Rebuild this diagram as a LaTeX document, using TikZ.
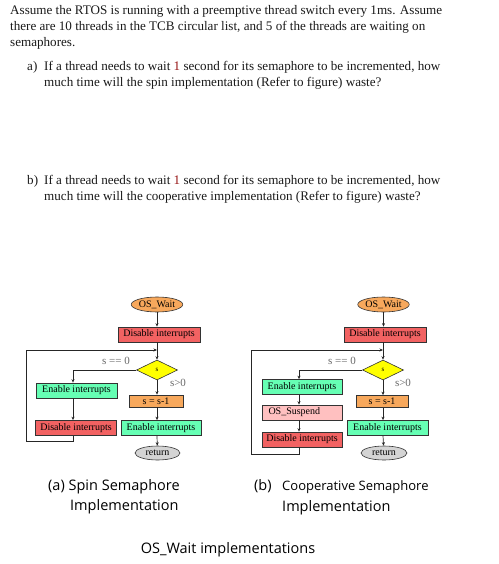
\documentclass[tikz,border=0pt]{standalone}
\usepackage{fontspec}
\setmainfont{Liberation Serif}
\newfontfamily\capfont{Open Sans}
\usetikzlibrary{shapes.geometric,arrows.meta}

\definecolor{disred}{RGB}{242,98,98}
\definecolor{engreen}{RGB}{102,255,180}
\definecolor{decorange}{RGB}{247,168,92}
\definecolor{testyellow}{RGB}{255,255,0}
\definecolor{retgray}{RGB}{212,212,212}
\definecolor{susppink}{RGB}{255,192,192}
\definecolor{onered}{RGB}{150,20,20}

\tikzset{
    box/.style={draw=black!80, line width=0.7pt, inner sep=0pt, minimum height=15pt,
        font=\fontsize{10}{10}\selectfont},
    term/.style={ellipse, draw=black!80, line width=0.6pt, inner sep=0pt,
        minimum width=46pt, minimum height=15pt, font=\fontsize{10}{10}\selectfont},
    test/.style={diamond, draw=black!80, line width=0.6pt, fill=testyellow, inner sep=0pt,
        minimum width=41pt, minimum height=20pt, font=\fontsize{7}{8}\selectfont},
    flow/.style={line width=0.7pt, draw=black!85, -{Stealth[length=3.5pt,width=3pt]}},
    branch/.style={text=black!60, font=\fontsize{11}{11}\selectfont},
    question/.style={anchor=north west, inner sep=0pt, align=left,
        font=\fontsize{13.1}{16}\selectfont, text=black!90},
    caption/.style={anchor=base west, inner sep=0pt, font=\capfont\fontsize{14.5}{16}\selectfont},
}

\begin{document}
\begin{tikzpicture}[x=1pt, y=-1pt]

    \useasboundingbox (0,0) rectangle (498,564);

    % Question text
    \node[question, font=\fontsize{13.1}{16.3}\selectfont] (intro) at (10,4.8) {Assume the RTOS is running with a preemptive thread switch every 1ms. Assume\\
        there are 10 threads in the TCB circular list, and 5 of the threads are waiting on\\
        semaphores.};
    \node[question] (qa-tag) at (27,61.1) {a)};
    \node[question] (qa) at (44,61.1) {If a thread needs to wait \textcolor{onered}{1} second for its semaphore to be incremented, how\\
        much time will the spin implementation (Refer to figure) waste?};
    \node[question] (qb-tag) at (27,175.1) {b)};
    \node[question] (qb) at (44,175.1) {If a thread needs to wait \textcolor{onered}{1} second for its semaphore to be incremented, how\\
        much time will the cooperative implementation (Refer to figure) waste?};

    % (a) Spin semaphore
    \node[term, fill=decorange] (A-wait) at (157,304.5) {OS\_Wait};
    \node[box, fill=disred, minimum width=82pt] (A-dis1) at (159,334.5) {Disable interrupts};
    \coordinate (A-join) at (157,350);
    \node[test] (A-s) at (157,370) {s};
    \node[box, fill=engreen, minimum width=81pt] (A-en1) at (76.5,390.5) {Enable interrupts};
    \node[box, fill=decorange, minimum width=54pt, minimum height=12pt] (A-dec) at (156,401) {s = s-1};
    \node[box, fill=disred, minimum width=81pt] (A-dis2) at (76,428) {Disable interrupts};
    \node[box, fill=engreen, minimum width=80pt] (A-en2) at (161,428) {Enable interrupts};
    \node[term, fill=retgray, minimum width=45pt, minimum height=14pt] (A-ret) at (157.5,453) {return};
    \node[branch] (A-zero) at (116,361) {s == 0};
    \node[branch] (A-pos) at (178,383) {s>0};
    \coordinate (A-left) at (73,0);
    \coordinate (A-back) at (26,441);

    \draw[flow] (A-wait) -- (A-wait |- A-dis1.north);
    \draw[flow] (A-wait |- A-dis1.south) -- (A-s);
    \draw[flow] (A-s.west) -| (A-left |- A-en1.north);
    \draw[flow] (A-left |- A-en1.south) -- (A-left |- A-dis2.north);
    \draw[flow] (A-left |- A-dis2.south) -- (A-left |- A-back) -- (A-back) -- (A-back |- A-join) -- (A-join);
    \draw[flow] (A-s) -- (A-s |- A-dec.north);
    \draw[flow] (A-s |- A-dec.south) -- (A-s |- A-en2.north);
    \draw[flow] (A-s |- A-en2.south) -- (A-ret);

    % (b) Cooperative semaphore
    \node[term, fill=decorange] (B-wait) at (383.5,304.5) {OS\_Wait};
    \node[box, fill=disred, minimum width=82pt] (B-dis1) at (385,334.5) {Disable interrupts};
    \coordinate (B-join) at (383,350);
    \node[test] (B-s) at (383,370) {s};
    \node[box, fill=engreen, minimum width=80pt] (B-en1) at (302,387) {Enable interrupts};
    \node[box, fill=susppink, minimum width=80pt, text width=67pt, align=left] (B-susp) at (302,412.5) {OS\_Suspend};
    \node[box, fill=disred, minimum width=80pt] (B-dis2) at (302,439.5) {Disable interrupts};
    \node[box, fill=decorange, minimum width=52pt, minimum height=12pt] (B-dec) at (382,401.5) {s = s-1};
    \node[box, fill=engreen, minimum width=81pt] (B-en2) at (387.5,428) {Enable interrupts};
    \node[term, fill=retgray, minimum width=46pt, minimum height=14pt] (B-ret) at (384,453) {return};
    \node[branch] (B-zero) at (342,361) {s == 0};
    \node[branch] (B-pos) at (403,383) {s>0};
    \coordinate (B-left) at (299,0);
    \coordinate (B-back) at (251,454);

    \draw[flow] (B-wait) -- (B-wait |- B-dis1.north);
    \draw[flow] (B-join |- B-dis1.south) -- (B-s);
    \draw[flow] (B-s.west) -| (B-left |- B-en1.north);
    \draw[flow] (B-left |- B-en1.south) -- (B-left |- B-susp.north);
    \draw[flow] (B-left |- B-susp.south) -- (B-left |- B-dis2.north);
    \draw[flow] (B-left |- B-dis2.south) -- (B-left |- B-back) -- (B-back) -- (B-back |- B-join) -- (B-join);
    \draw[flow] (B-s) -- (B-s |- B-dec.north);
    \draw[flow] (B-s |- B-dec.south) -- (B-s |- B-en2.north);
    \draw[flow] (B-s |- B-en2.south) -- (B-ret);

    % Captions
    \node[caption] (A-cap) at (48,490) {(a) Spin Semaphore};
    \node[caption] (A-cap2) at (70,510) {Implementation};
    \node[caption] (B-tag) at (254,490) {(b)};
    \node[caption, font=\capfont\fontsize{13}{16}\selectfont] (B-cap) at (282,490) {Cooperative Semaphore};
    \node[caption] (B-cap2) at (282,511) {Implementation};
    \node[caption, anchor=base] (title) at (228,553) {OS\_Wait implementations};

\end{tikzpicture}
\end{document}
